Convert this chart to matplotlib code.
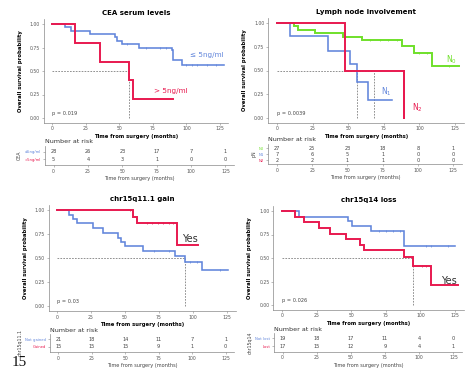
import matplotlib
matplotlib.use("Agg")
import matplotlib.pyplot as plt
import numpy as np

W, H = 474, 371
BLUE = "#6185db"
RED = "#e8194f"
GREEN = "#6fe02a"
GREY = "#7f7f7f"

# ---------------- data ----------------
ticks_t = [0, 25, 50, 75, 100, 125]
ticks_s = [0.00, 0.25, 0.50, 0.75, 1.00]

cea_low_t = [10, 14, 28, 47, 48, 52, 65, 89, 90, 97]
cea_low_s = [0.97, 0.93, 0.89, 0.86, 0.82, 0.79, 0.75, 0.72, 0.62, 0.56]
cea_low_end = 128
cea_low_cens = [56, 70, 80, 85, 100, 104, 108, 115, 122]
cea_high_t = [17, 36, 57.5, 60.5]
cea_high_s = [0.80, 0.60, 0.40, 0.20]
cea_high_end = 90
cea_median = [57.5]
cea_risk_low = [28, 26, 23, 17, 7, 1]
cea_risk_high = [5, 4, 3, 1, 0, 0]

n0_t = [12, 15, 27, 46, 60, 88, 96, 109]
n0_s = [0.97, 0.93, 0.89, 0.85, 0.82, 0.755, 0.68, 0.545]
n0_end = 128
n0_cens = [65, 72, 78, 84, 100, 105, 121]
n1_t = [9, 35.5, 51, 56, 64]
n1_s = [0.86, 0.71, 0.57, 0.38, 0.19]
n1_end = 81
n2_t = [47.5, 89]
n2_s = [0.50, 0.00]
n2_end = 89
pn_median = [56, 68]
pn_risk_n0 = [27, 25, 23, 18, 8, 1]
pn_risk_n1 = [7, 6, 5, 1, 0, 0]
pn_risk_n2 = [2, 2, 1, 1, 0, 0]

gain_no_t = [8.6, 11.8, 15, 26.6, 34, 45, 47, 50, 63.5, 87, 94, 106.5]
gain_no_s = [0.95, 0.905, 0.86, 0.81, 0.76, 0.71, 0.67, 0.62, 0.57, 0.52, 0.455, 0.37]
gain_no_end = 126
gain_no_cens = [71, 82, 98, 103, 120]
gain_yes_t = [56, 59, 88]
gain_yes_s = [0.93, 0.86, 0.64]
gain_yes_end = 104
gain_yes_cens = [54, 66, 70, 74, 78, 82, 85]
gain_median = [94]
gain_risk_no = [21, 18, 14, 11, 7, 1]
gain_risk_yes = [15, 15, 15, 9, 1, 0]

loss_no_t = [12, 48, 50.5, 64, 88]
loss_no_s = [0.94, 0.89, 0.84, 0.79, 0.63]
loss_no_end = 125
loss_no_cens = [70, 75, 80, 85, 104, 108, 120]
loss_yes_t = [9.6, 16, 27, 35, 46, 56.5, 59, 88.5, 95, 107.5]
loss_yes_s = [0.94, 0.88, 0.82, 0.76, 0.70, 0.64, 0.58, 0.51, 0.42, 0.21]
loss_yes_end = 127
loss_yes_cens = [101, 104]
loss_median = [95]
loss_risk_no = [19, 18, 17, 11, 4, 0]
loss_risk_yes = [17, 15, 12, 9, 4, 1]

fig = plt.figure(figsize=(W / 100, H / 100), dpi=100)
plt.rcParams['font.family'] = ['DejaVu Sans']


def pax(l, t, r, b):
    return fig.add_axes([l / W, 1 - b / H, (r - l) / W, (b - t) / H])


def style(ax):
    for s in ["top", "right"]:
        ax.spines[s].set_visible(False)
    for s in ["left", "bottom"]:
        ax.spines[s].set_color("#888888")
        ax.spines[s].set_linewidth(0.5)
    ax.tick_params(length=1.5, width=0.4, colors="#888888", labelsize=3.3,
                   labelcolor="#555555", pad=1.2)


def surv_at(times, surv, t):
    v = 1.0
    for ti, si in zip(times, surv):
        if t >= ti:
            v = si
    return v


def km(ax, times, surv, end, color, lw=1.15, cens=()):
    x = [0] + list(times) + [end]
    y = [1.0] + list(surv) + [surv[-1]]
    ax.step(x, y, where="post", color=color, lw=lw, solid_joinstyle="miter")
    for c in cens:
        ax.plot([c], [surv_at(times, surv, c)], marker="|", ms=2, mew=0.5,
                color=color)


def main_axes(box, title, medians, ptext):
    ax = pax(*box)
    style(ax)
    ax.set_xlim(-6.25, 131.25)
    ax.set_ylim(-0.05, 1.05)
    ax.set_xticks(ticks_t)
    ax.set_yticks(ticks_s)
    ax.set_yticklabels(["%.2f" % v for v in ticks_s])
    ax.set_title(title, fontsize=5, fontweight="bold", pad=3)
    ax.set_ylabel("Overall survival probability", fontsize=3.8,
                  fontweight="bold", labelpad=5)
    ax.set_xlabel("Time from surgery (months)", fontsize=3.8,
                  fontweight="bold", labelpad=1.5)
    ax.plot([0, max(medians)], [0.5, 0.5], ls=(0, (2, 1.5)), color=GREY, lw=0.6)
    for m in medians:
        ax.plot([m, m], [0, 0.5], ls=(0, (2, 1.5)), color=GREY, lw=0.6)
    ax.text(0, 0.05, ptext, fontsize=3.6, color="#444444", va="center")
    return ax


def risk_table(box, rows, names, colors, ylabel):
    n = len(rows)
    ax = pax(*box)
    style(ax)
    ax.set_xlim(-6.25, 131.25)
    ax.set_ylim(0.3, n + 0.7)
    ax.set_xticks(ticks_t)
    ax.set_yticks(list(range(n, 0, -1)))
    ax.set_yticklabels(names, fontsize=2.7)
    for lab, c in zip(ax.get_yticklabels(), colors):
        lab.set_color(c)
    for i, row in enumerate(rows):
        for t, v in zip(ticks_t, row):
            ax.text(t, n - i, str(v), fontsize=3.6, color="#444444",
                    ha="center", va="center")
    ax.set_xlabel("Time from surgery (months)", fontsize=3.6,
                  color="#444444", labelpad=1.5)
    ax.set_ylabel(ylabel, fontsize=3.4, color="#444444", labelpad=2)
    ax.text(0.0, 1.08, "Number at risk", transform=ax.transAxes,
            fontsize=4.6, color="#333333", ha="left", va="bottom")
    return ax


# Panel 1
ax1 = main_axes((43.6, 19.3, 228.4, 122.7), "CEA serum levels", cea_median,
                "p = 0.019")
km(ax1, cea_low_t, cea_low_s, cea_low_end, BLUE, cens=cea_low_cens)
km(ax1, cea_high_t, cea_high_s, cea_high_end, RED, lw=1.4)
ax1.text(103, 0.665, "≤ 5ng/ml", fontsize=5.2, color=BLUE, va="center")
ax1.text(76, 0.285, "> 5ng/ml", fontsize=5.2, color=RED, va="center")
risk_table((45, 146, 234, 165), [cea_risk_low, cea_risk_high],
           ["≤5ng/ml", ">5ng/ml"], [BLUE, RED], "CEA")

# Panel 2
ax2 = main_axes((268.1, 18.3, 463.9, 122.7), "Lymph node involvement",
                pn_median, "p = 0.0039")
km(ax2, n0_t, n0_s, n0_end, GREEN, lw=1.4, cens=n0_cens)
km(ax2, n1_t, n1_s, n1_end, BLUE)
km(ax2, n2_t, n2_s, n2_end, RED, lw=1.4)
ax2.plot([n2_t[-1], n2_t[-1]], [n2_s[0], n2_s[-1]], color=RED, lw=1.4)
ax2.text(119, 0.615, "N$_0$", fontsize=5.5, color=GREEN, va="center")
ax2.text(73, 0.28, "N$_1$", fontsize=5.5, color=BLUE, va="center")
ax2.text(94.5, 0.105, "N$_2$", fontsize=5.5, color=RED, va="center")
risk_table((268, 144, 462, 164.3), [pn_risk_n0, pn_risk_n1, pn_risk_n2],
           ["N0", "N1", "N2"], [GREEN, BLUE, RED], "pN")

# Panel 3
ax3 = main_axes((48.5, 205.2, 235.5, 310.8), "chr15q11.1 gain", gain_median,
                "p = 0.03")
km(ax3, gain_no_t, gain_no_s, gain_no_end, BLUE, cens=gain_no_cens)
km(ax3, gain_yes_t, gain_yes_s, gain_yes_end, RED, lw=1.4, cens=gain_yes_cens)
ax3.text(92, 0.70, "Yes", fontsize=7, color="#333333", va="center")
risk_table((50, 334, 234, 352), [gain_risk_no, gain_risk_yes],
           ["Not gained", "Gained"], [BLUE, RED], "chr15q11.1")

# Panel 4
ax4 = main_axes((273.3, 206.3, 463.6, 309.7), "chr15q14 loss", loss_median,
                "p = 0.026")
km(ax4, loss_no_t, loss_no_s, loss_no_end, BLUE, cens=loss_no_cens)
km(ax4, loss_yes_t, loss_yes_s, loss_yes_end, RED, lw=1.4, cens=loss_yes_cens)
ax4.text(115, 0.26, "Yes", fontsize=7, color="#333333", va="center")
risk_table((274, 333, 462, 351.7), [loss_risk_no, loss_risk_yes],
           ["Not lost", "Lost"], [BLUE, RED], "chr15q14")

fig.text(19 / W, 1 - 362 / H, "15", fontsize=11, family="Liberation Serif",
         ha="center", va="center", color="#111111")

fig.savefig("out.png", dpi=100)
